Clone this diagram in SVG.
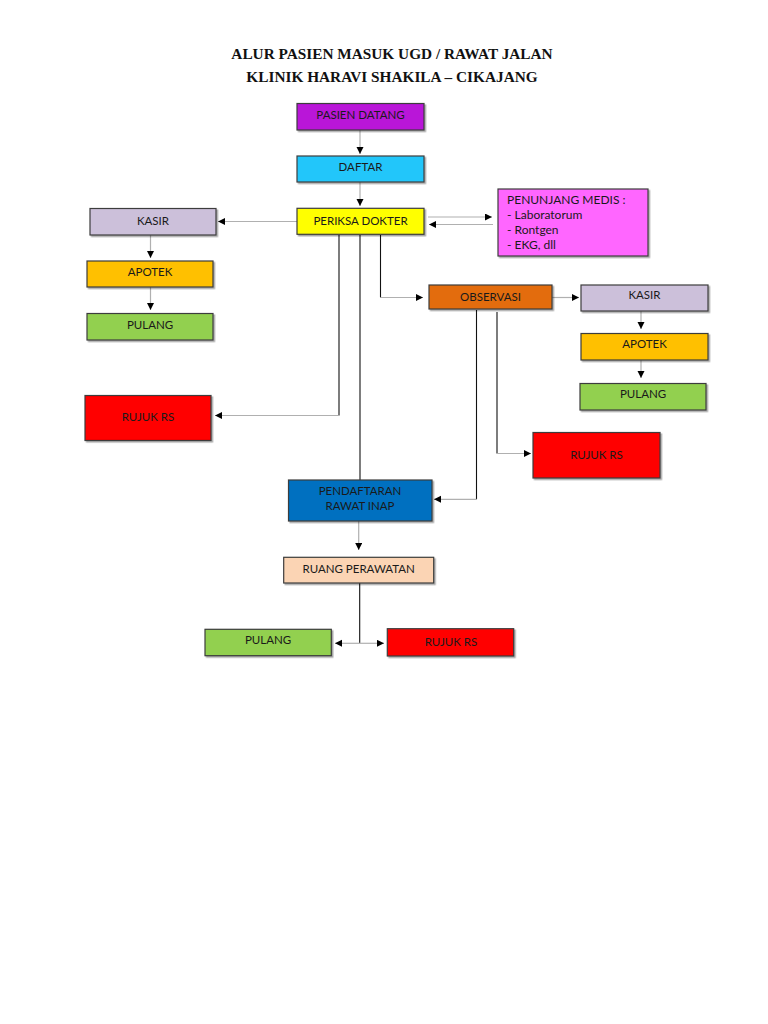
<svg xmlns="http://www.w3.org/2000/svg" width="768" height="1024" viewBox="0 0 768 1024">
<defs>
<marker id="ah" markerUnits="userSpaceOnUse" markerWidth="8" markerHeight="8" refX="7" refY="3.5" orient="auto">
<path d="M0,0 L7,3.5 L0,7 z" fill="#000"/>
</marker>
<filter id="sh" x="-5%" y="-5%" width="115%" height="130%">
<feDropShadow dx="1.5" dy="1.5" stdDeviation="0.6" flood-color="#000" flood-opacity="0.35"/>
</filter>
</defs>
<style>
.box{stroke:#3c3c3c;stroke-width:1.2;filter:url(#sh)}
.t{font-family:Lato,"Open Sans","DejaVu Sans",sans-serif;font-size:11.5px;fill:#1a1a1a;text-anchor:middle}
.tl{font-family:Lato,"Open Sans","DejaVu Sans",sans-serif;font-size:12px;fill:#1a1a1a}
.title{font-family:"Liberation Serif","Times New Roman",serif;font-weight:bold;font-size:15.3px;fill:#111;text-anchor:middle}
.lk{fill:none;stroke:#111;stroke-width:1.1}
.lg{fill:none;stroke:#b0b0b0;stroke-width:1.2}
.arr{marker-end:url(#ah)}
</style>
<rect width="768" height="1024" fill="#fff"/>
<text class="title" x="392" y="59">ALUR PASIEN MASUK UGD / RAWAT JALAN</text>
<text class="title" x="392" y="82">KLINIK HARAVI SHAKILA – CIKAJANG</text>

<g id="connectors">
<path class="lg arr" d="M360,130 V154"/>
<path class="lg arr" d="M360,182 V206"/>
<path class="lg arr" d="M297,221.5 H218"/>
<path class="lg arr" d="M428,217 H492"/>
<path class="lg arr" d="M493,224.5 H429"/>
<path class="lg arr" d="M150.5,235 V258"/>
<path class="lg arr" d="M150.5,287 V310"/>
<path class="lk" d="M339,235 V415.5"/>
<path class="lg arr" d="M339,415.5 H215"/>
<path class="lk" d="M360,235 V480"/>
<path class="lk" d="M380.5,235 V297.5"/>
<path class="lg arr" d="M380.5,297.5 H423"/>
<path class="lg arr" d="M552,297.5 H579"/>
<path class="lg arr" d="M641,311 V329"/>
<path class="lg arr" d="M641,360 V378"/>
<path class="lk" d="M476.5,310 V499.3"/>
<path class="lg arr" d="M476.5,499.3 H434"/>
<path class="lk" d="M497,312 V453.5"/>
<path class="lg arr" d="M497,453.5 H531"/>
<path class="lg arr" d="M358.7,521 V550"/>
<path class="lk" d="M359.7,583 V643.3"/>
<path class="lg arr" d="M359.7,643.3 H335"/>
<path class="lg arr" d="M359.7,643.3 H384"/>
</g>

<g id="pasien-datang"><rect class="box" x="297" y="103.5" width="127" height="26.5" fill="#b915d8"/><text class="t" x="360.5" y="119">PASIEN DATANG</text></g>
<g id="daftar"><rect class="box" x="297" y="156" width="127" height="26" fill="#20c6fa"/><text class="t" x="360.5" y="171">DAFTAR</text></g>
<g id="periksa-dokter"><rect class="box" x="297" y="208.3" width="127" height="26" fill="#ffff00"/><text class="t" x="360.5" y="224.5">PERIKSA DOKTER</text></g>
<g id="penunjang-medis"><rect class="box" x="498" y="189" width="150" height="67" fill="#ff66ff"/>
<text class="tl" x="507" y="203.5">PENUNJANG MEDIS :</text>
<text class="tl" x="507" y="218.5">-  Laboratorum</text>
<text class="tl" x="507" y="233.5">-  Rontgen</text>
<text class="tl" x="507" y="248.5">-  EKG, dll</text></g>
<g id="kasir-1"><rect class="box" x="90" y="208.5" width="126" height="26.5" fill="#ccc0da"/><text class="t" x="153" y="224.5">KASIR</text></g>
<g id="apotek-1"><rect class="box" x="87" y="261" width="126" height="26" fill="#ffc000"/><text class="t" x="150" y="276">APOTEK</text></g>
<g id="pulang-1"><rect class="box" x="87" y="313.5" width="126" height="26.5" fill="#92d050"/><text class="t" x="150" y="328.5">PULANG</text></g>
<g id="rujuk-rs-1"><rect class="box" x="85" y="395.5" width="126" height="45" fill="#ff0000"/><text class="t" x="148" y="421">RUJUK RS</text></g>
<g id="observasi"><rect class="box" x="429" y="285" width="123" height="24" fill="#e36c09"/><text class="t" x="490.5" y="300.5">OBSERVASI</text></g>
<g id="kasir-2"><rect class="box" x="581" y="285" width="127" height="26" fill="#ccc0da"/><text class="t" x="644.5" y="299">KASIR</text></g>
<g id="apotek-2"><rect class="box" x="581" y="333.5" width="127" height="26.5" fill="#ffc000"/><text class="t" x="644.5" y="348">APOTEK</text></g>
<g id="pulang-2"><rect class="box" x="580" y="383.5" width="126" height="26.5" fill="#92d050"/><text class="t" x="643" y="398">PULANG</text></g>
<g id="rujuk-rs-2"><rect class="box" x="533" y="432.5" width="127" height="45.5" fill="#ff0000"/><text class="t" x="596.5" y="459">RUJUK RS</text></g>
<g id="pendaftaran-rawat-inap"><rect class="box" x="288.5" y="480" width="143.5" height="41" fill="#0070c0"/><text class="t" x="360" y="495">PENDAFTARAN</text><text class="t" x="360" y="509.5">RAWAT INAP</text></g>
<g id="ruang-perawatan"><rect class="box" x="283.7" y="557.3" width="150" height="25.7" fill="#fbd4b4"/><text class="t" x="358.7" y="572.5">RUANG PERAWATAN</text></g>
<g id="pulang-3"><rect class="box" x="205" y="629.3" width="126.3" height="26.4" fill="#92d050"/><text class="t" x="268" y="644">PULANG</text></g>
<g id="rujuk-rs-3"><rect class="box" x="387.3" y="628.7" width="126.4" height="27.3" fill="#ff0000"/><text class="t" x="451" y="645.5">RUJUK RS</text></g>
</svg>
